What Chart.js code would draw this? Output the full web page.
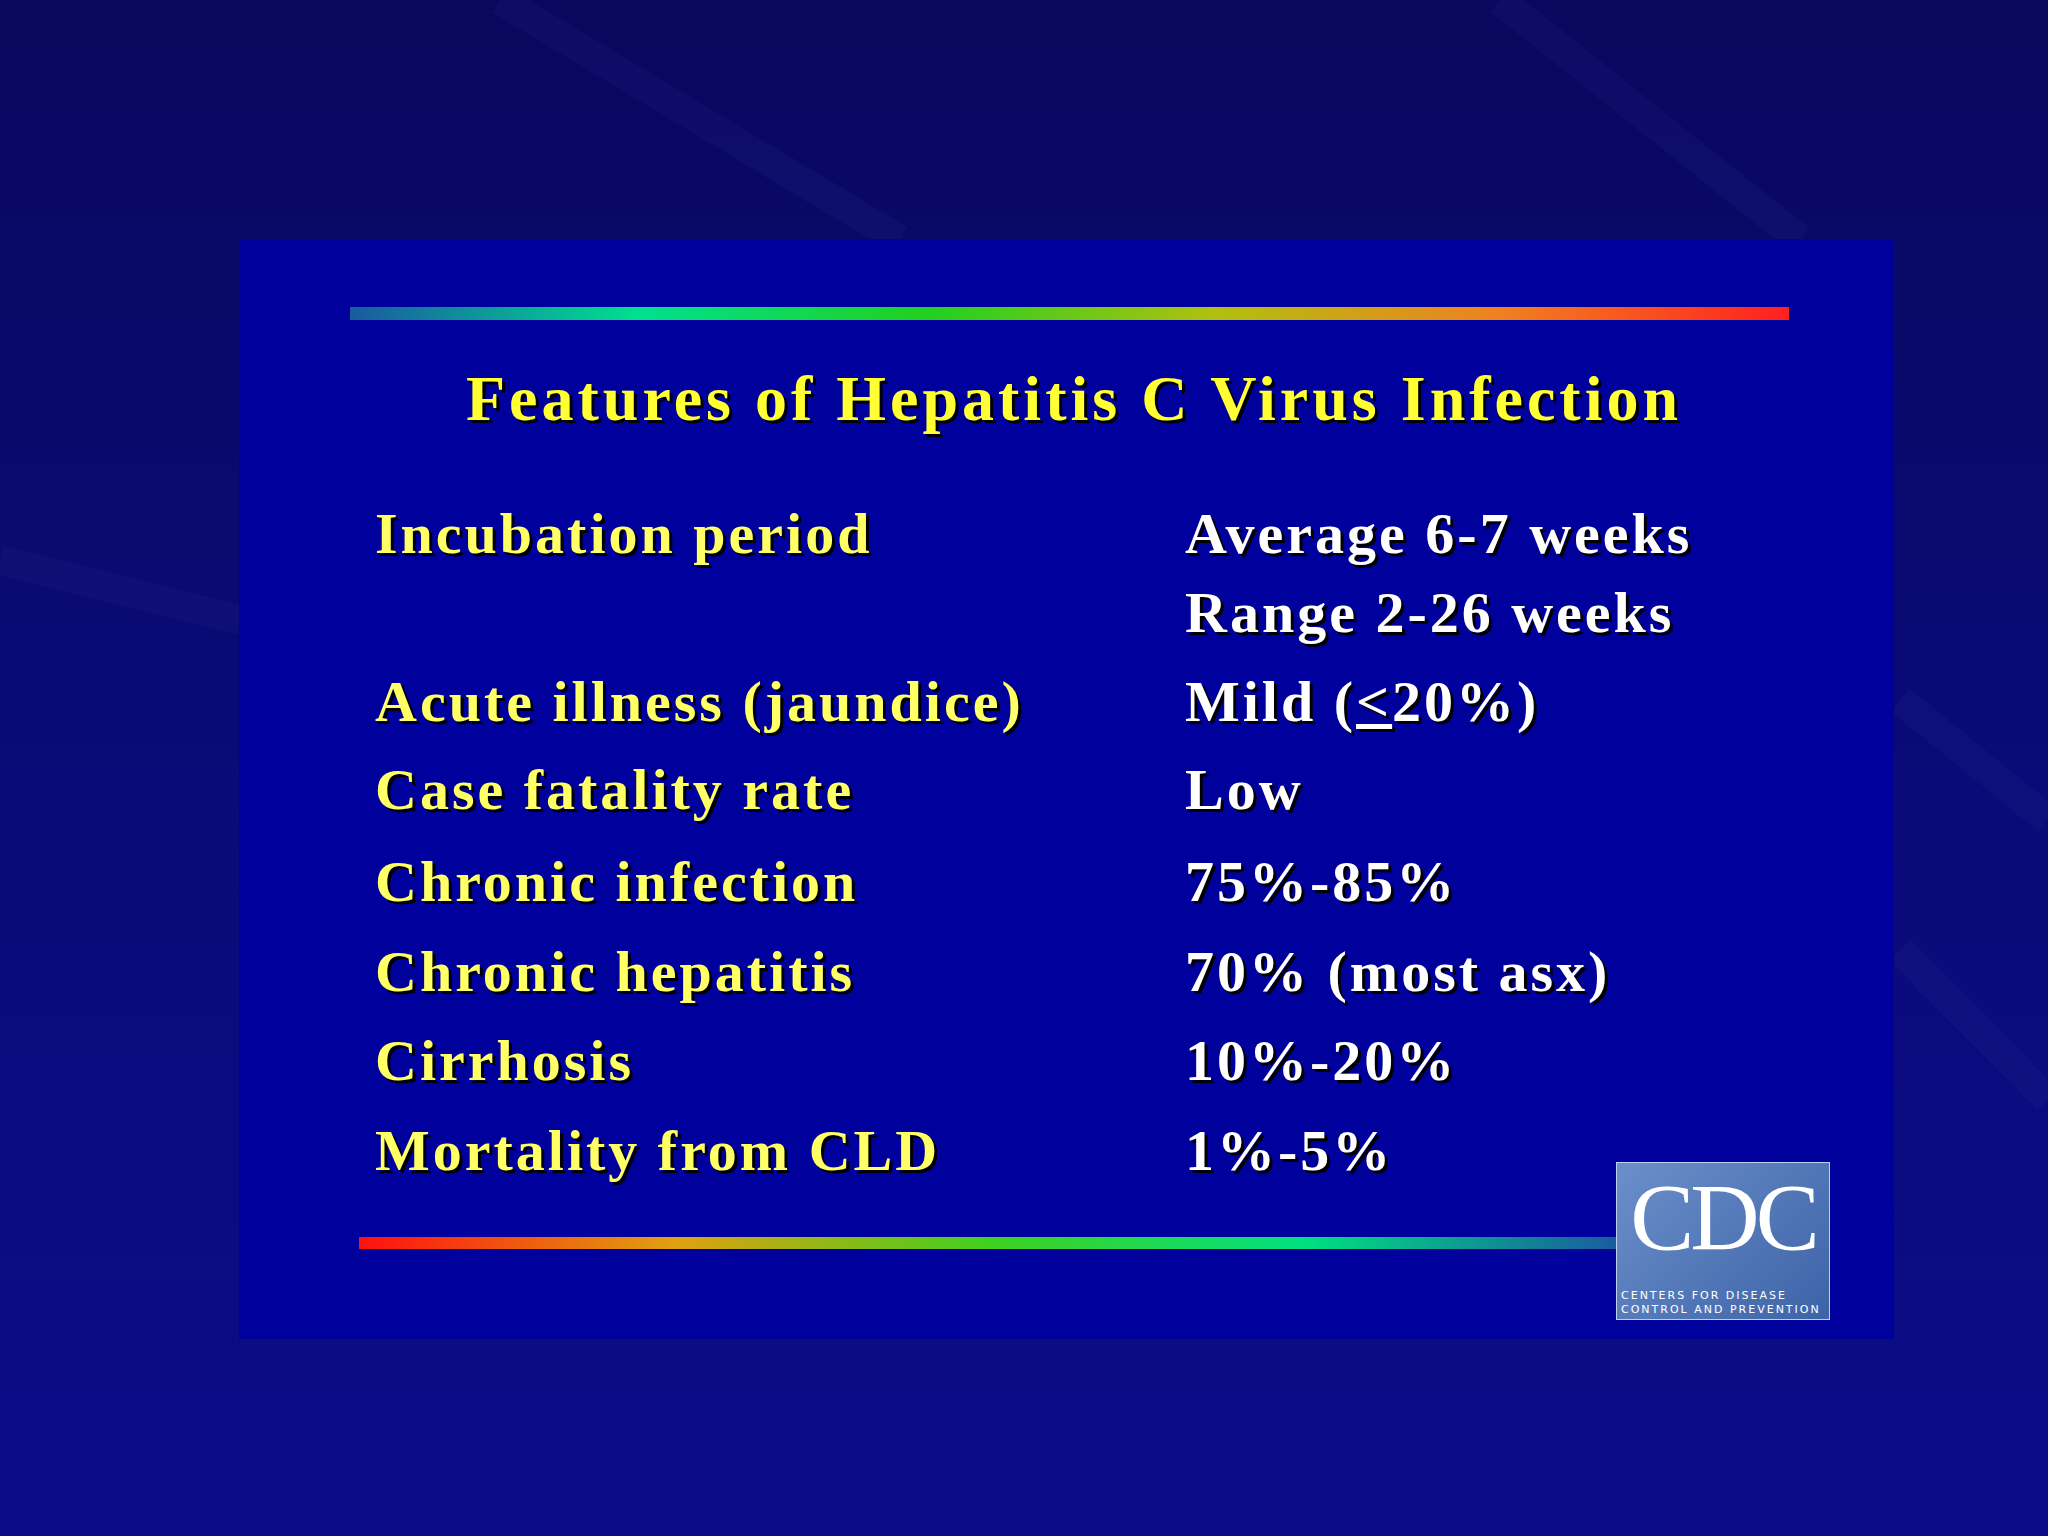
<!DOCTYPE html>
<html><head><meta charset="utf-8">
<script src="https://cdn.jsdelivr.net/npm/chart.js@4"></script>
<style>
html,body{margin:0;padding:0;width:2048px;height:1536px;overflow:hidden;background:#06065e;}
#wrap{position:relative;width:2048px;height:1536px;}
canvas{position:absolute;left:0;top:0;}
.t{position:absolute;font-family:"Liberation Serif","DejaVu Serif",serif;font-weight:bold;white-space:nowrap;text-shadow:3px 3px 0 #000;}
.title{color:#ffff33;font-size:64px;left:0;width:2148px;text-align:center;top:362px;letter-spacing:4px;}
.l{color:#ffff66;font-size:58px;left:375px;letter-spacing:3px;}
.r{color:#ffffff;font-size:58px;left:1185px;letter-spacing:3px;}
#logo{position:absolute;left:1616px;top:1162px;width:212px;height:156px;background:linear-gradient(135deg,#6b8fc9,#3d63a8);border:1px solid #c0d0f0;}
#logo .c{position:absolute;left:0;top:0;width:212px;text-align:center;font-family:"Liberation Serif",serif;color:#fff;font-size:96px;line-height:110px;letter-spacing:-4px;}
#logo .s{position:absolute;left:4px;top:126px;font-family:"DejaVu Sans",sans-serif;color:#fff;font-size:11px;line-height:14px;letter-spacing:2px;}
</style></head><body>
<div id="wrap"><canvas id="c" width="2048" height="1536"></canvas>
<div id="txt"></div>
<div id="logo"><div class="c">CDC</div><div class="s">CENTERS FOR DISEASE<br>CONTROL AND PREVENTION</div></div>
</div>
<script>
const titleText = "Features of Hepatitis C Virus Infection";
const features = ["Incubation period","","Acute illness (jaundice)","Case fatality rate","Chronic infection","Chronic hepatitis","Cirrhosis","Mortality from CLD"];
const values = ["Average 6-7 weeks","Range 2-26 weeks","Mild (<u>&lt;</u>20%)","Low","75%-85%","70% (most asx)","10%-20%","1%-5%"];
const rowTops = [500,579,668,756,848,938,1027,1117];

let html = '<div class="t title">'+titleText+'</div>';
features.forEach((f,i)=>{ if(f) html += '<div class="t l" style="top:'+rowTops[i]+'px">'+f+'</div>';
  html += '<div class="t r" style="top:'+rowTops[i]+'px">'+values[i]+'</div>'; });
document.getElementById('txt').innerHTML = html;

const slidePlugin = {id:'slide', beforeDraw(chart){
  const ctx = chart.ctx;
  ctx.save();
  let g = ctx.createLinearGradient(0,0,0,1536);
  g.addColorStop(0,'#08085e'); g.addColorStop(0.5,'#0a0a78'); g.addColorStop(1,'#0c0c88');
  ctx.fillStyle=g; ctx.fillRect(0,0,2048,1536);
  ctx.strokeStyle='rgba(40,40,140,0.18)'; ctx.lineWidth=30;
  [[500,0,900,240],[1500,0,1800,240],[1900,950,2048,1100],[0,560,240,620],[1900,700,2048,820]].forEach(a=>{ctx.beginPath();ctx.moveTo(a[0],a[1]);ctx.lineTo(a[2],a[3]);ctx.stroke();});
  ctx.fillStyle='#00009c'; ctx.fillRect(239,239,1655,1100);
  let t = ctx.createLinearGradient(350,0,1789,0);
  t.addColorStop(0,'#1a5aa0'); t.addColorStop(0.2,'#00e090'); t.addColorStop(0.4,'#20d020'); t.addColorStop(0.6,'#b0c010'); t.addColorStop(0.8,'#f08020'); t.addColorStop(1,'#ff2020');
  ctx.fillStyle=t; ctx.fillRect(350,307,1439,13);
  let b = ctx.createLinearGradient(359,0,1620,0);
  b.addColorStop(0,'#ff1010'); b.addColorStop(0.25,'#e0a010'); b.addColorStop(0.5,'#40d020'); b.addColorStop(0.75,'#00e080'); b.addColorStop(1,'#1a5aa0');
  ctx.fillStyle=b; ctx.fillRect(359,1237,1261,12);
  ctx.restore();
}};
new Chart(document.getElementById('c'),{type:'bar',data:{labels:features,datasets:[{data:[],backgroundColor:'transparent'}]},
 options:{responsive:false,animation:false,events:[],plugins:{legend:{display:false},tooltip:{enabled:false}},
 scales:{x:{display:false},y:{display:false}}},plugins:[slidePlugin]});
</script></body></html>
